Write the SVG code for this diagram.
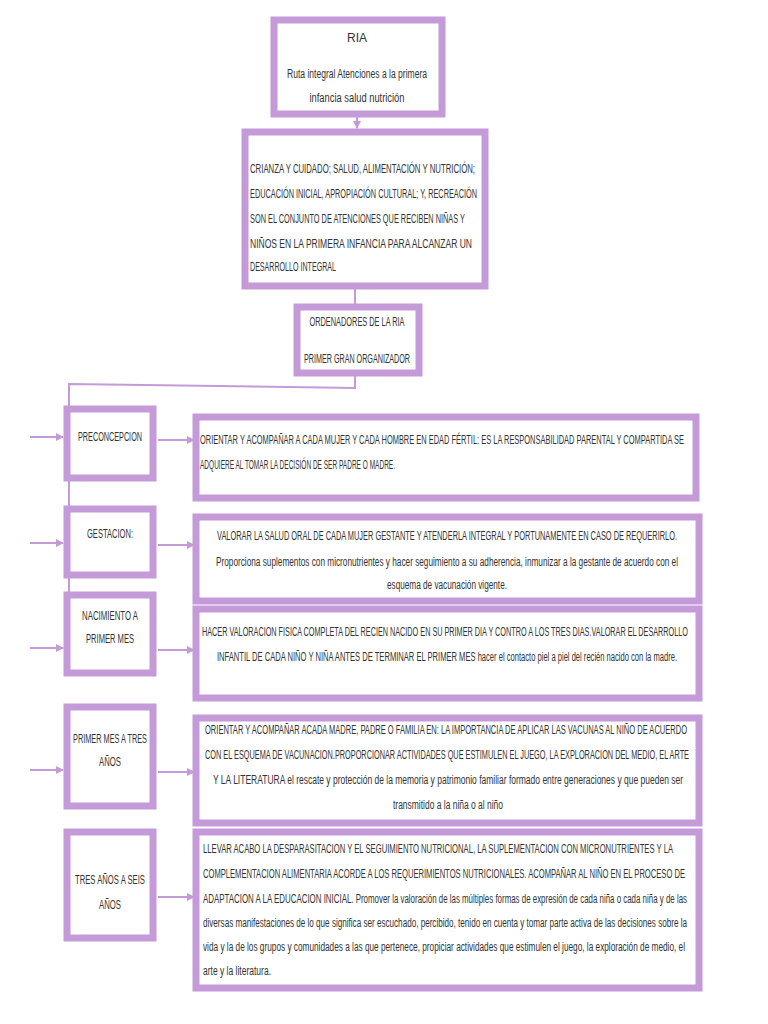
<svg xmlns="http://www.w3.org/2000/svg" width="768" height="1024" viewBox="0 0 768 1024">
<defs>
<style>
.b{fill:#fff;stroke:#c49ad8;stroke-width:7}
.c{stroke:#c49ad8;stroke-width:2;fill:none}
.t{font-family:"Liberation Sans",Arial,sans-serif;font-size:12px;fill:#333}
.m{text-anchor:middle}
</style>
<marker id="a" markerWidth="8" markerHeight="8" refX="7" refY="4" orient="auto" markerUnits="userSpaceOnUse"><path d="M0,0L8,4L0,8z" fill="#c49ad8"/></marker>
</defs>
<rect width="768" height="1024" fill="#fff"/>
<g id="connectors">
<line class="c" x1="357" y1="116" x2="357" y2="128" marker-end="url(#a)"/>
<line class="c" x1="355" y1="288" x2="355" y2="304"/>
<polyline class="c" points="355,375 355,388 69,384 69,600"/>
<line class="c" x1="30" y1="437" x2="63" y2="437" marker-end="url(#a)"/>
<line class="c" x1="30" y1="543" x2="63" y2="543" marker-end="url(#a)"/>
<line class="c" x1="30" y1="648" x2="63" y2="648" marker-end="url(#a)"/>
<line class="c" x1="30" y1="770" x2="63" y2="770" marker-end="url(#a)"/>
<line class="c" x1="158" y1="440" x2="194" y2="440" marker-end="url(#a)"/>
<line class="c" x1="158" y1="545" x2="194" y2="545" marker-end="url(#a)"/>
<line class="c" x1="158" y1="650" x2="194" y2="650" marker-end="url(#a)"/>
<line class="c" x1="158" y1="772" x2="194" y2="772" marker-end="url(#a)"/>
<line class="c" x1="158" y1="897" x2="194" y2="897" marker-end="url(#a)"/>
</g>
<g id="ria"><rect class="b" x="274" y="20" width="168" height="94"/>
<text class="t m" x="357" y="42">RIA</text>
<text class="t m" x="357" y="78" textLength="140" lengthAdjust="spacingAndGlyphs">Ruta integral Atenciones a la primera</text>
<text class="t m" x="357" y="102" textLength="95" lengthAdjust="spacingAndGlyphs">infancia salud nutrición</text></g>
<g id="def"><rect class="b" x="245" y="132" width="240" height="154"/>
<text class="t" x="250" y="173" textLength="225" lengthAdjust="spacingAndGlyphs">CRIANZA Y CUIDADO; SALUD, ALIMENTACIÓN Y NUTRICIÓN;</text>
<text class="t" x="250" y="198" textLength="227" lengthAdjust="spacingAndGlyphs">EDUCACIÓN INICIAL, APROPIACIÓN CULTURAL; Y, RECREACIÓN</text>
<text class="t" x="250" y="223" textLength="215" lengthAdjust="spacingAndGlyphs">SON EL CONJUNTO DE ATENCIONES QUE RECIBEN NIÑAS Y</text>
<text class="t" x="250" y="248" textLength="222" lengthAdjust="spacingAndGlyphs">NIÑOS EN LA PRIMERA INFANCIA PARA ALCANZAR UN</text>
<text class="t" x="250" y="271" textLength="86" lengthAdjust="spacingAndGlyphs">DESARROLLO INTEGRAL</text></g>
<g id="ord"><rect class="b" x="297" y="307" width="122" height="66"/>
<text class="t m" x="357" y="326" textLength="95" lengthAdjust="spacingAndGlyphs">ORDENADORES DE LA RIA</text>
<text class="t m" x="357" y="363" textLength="106" lengthAdjust="spacingAndGlyphs">PRIMER GRAN ORGANIZADOR</text></g>
<g id="pre"><rect class="b" x="67" y="409" width="86" height="69"/><text class="t m" x="110" y="441" textLength="64" lengthAdjust="spacingAndGlyphs">PRECONCEPCION</text></g>
<g id="ges"><rect class="b" x="67" y="509" width="86" height="66"/><text class="t m" x="110" y="538" textLength="46" lengthAdjust="spacingAndGlyphs">GESTACION:</text></g>
<g id="nac"><rect class="b" x="67" y="595" width="86" height="78"/><text class="t m" x="110" y="620" textLength="56" lengthAdjust="spacingAndGlyphs">NACIMIENTO A</text><text class="t m" x="110" y="643" textLength="48" lengthAdjust="spacingAndGlyphs">PRIMER MES</text></g>
<g id="pm"><rect class="b" x="67" y="707" width="86" height="99"/><text class="t m" x="110" y="743" textLength="74" lengthAdjust="spacingAndGlyphs">PRIMER MES A TRES</text><text class="t m" x="110" y="766" textLength="22" lengthAdjust="spacingAndGlyphs">AÑOS</text></g>
<g id="tres"><rect class="b" x="67" y="832" width="86" height="106"/><text class="t m" x="110" y="884" textLength="70" lengthAdjust="spacingAndGlyphs">TRES AÑOS A SEIS</text><text class="t m" x="110" y="909" textLength="22" lengthAdjust="spacingAndGlyphs">AÑOS</text></g>
<g id="r1"><rect class="b" x="196" y="417" width="500" height="81"/>
<text class="t" x="200" y="444" textLength="484" lengthAdjust="spacingAndGlyphs">ORIENTAR Y ACOMPAÑAR  A CADA MUJER Y CADA HOMBRE EN EDAD FÉRTIL: ES LA RESPONSABILIDAD PARENTAL Y COMPARTIDA SE</text>
<text class="t" x="200" y="469" textLength="195" lengthAdjust="spacingAndGlyphs">ADQUIERE AL TOMAR LA DECISIÓN DE SER PADRE O MADRE.</text></g>
<g id="r2"><rect class="b" x="196" y="517" width="503" height="84"/>
<text class="t m" x="447" y="540" textLength="460" lengthAdjust="spacingAndGlyphs">VALORAR LA SALUD ORAL DE CADA MUJER GESTANTE Y ATENDERLA INTEGRAL Y PORTUNAMENTE EN CASO DE REQUERIRLO.</text>
<text class="t m" x="447" y="566" textLength="462" lengthAdjust="spacingAndGlyphs">Proporciona suplementos con micronutrientes y hacer seguimiento a su adherencia, inmunizar a la gestante de acuerdo con el</text>
<text class="t m" x="447" y="589" textLength="120" lengthAdjust="spacingAndGlyphs">esquema de vacunación vigente.</text></g>
<g id="r3"><rect class="b" x="196" y="609" width="503" height="89"/>
<text class="t" x="202" y="636" textLength="486" lengthAdjust="spacingAndGlyphs">HACER VALORACION FISICA COMPLETA DEL  RECIEN NACIDO EN SU PRIMER DIA Y CONTRO A LOS TRES DIAS.VALORAR EL DESARROLLO</text>
<text class="t m" x="447" y="661" textLength="460" lengthAdjust="spacingAndGlyphs">INFANTIL DE CADA NIÑO Y NIÑA ANTES DE TERMINAR EL PRIMER MES  hacer el contacto piel a piel del recién nacido con la madre.</text></g>
<g id="r4"><rect class="b" x="196" y="718" width="503" height="105"/>
<text class="t" x="205" y="734" textLength="482" lengthAdjust="spacingAndGlyphs">ORIENTAR Y ACOMPAÑAR ACADA MADRE, PADRE O FAMILIA EN: LA IMPORTANCIA DE APLICAR LAS VACUNAS AL NIÑO DE ACUERDO</text>
<text class="t" x="205" y="759" textLength="484" lengthAdjust="spacingAndGlyphs">CON EL ESQUEMA DE VACUNACION.PROPORCIONAR ACTIVIDADES QUE ESTIMULEN EL JUEGO, LA EXPLORACION DEL MEDIO, EL ARTE</text>
<text class="t m" x="448" y="784" textLength="470" lengthAdjust="spacingAndGlyphs">Y LA LITERATURA el rescate y protección de la memoria y patrimonio familiar formado entre generaciones y que pueden ser</text>
<text class="t m" x="448" y="809" textLength="110" lengthAdjust="spacingAndGlyphs">transmitido a la niña o al niño</text></g>
<g id="r5"><rect class="b" x="196" y="832" width="503" height="156"/>
<text class="t" x="203" y="853" textLength="470" lengthAdjust="spacingAndGlyphs">LLEVAR ACABO LA DESPARASITACION Y EL SEGUIMIENTO NUTRICIONAL, LA SUPLEMENTACION CON MICRONUTRIENTES Y LA</text>
<text class="t" x="203" y="878" textLength="482" lengthAdjust="spacingAndGlyphs">COMPLEMENTACION ALIMENTARIA ACORDE A LOS REQUERIMIENTOS NUTRICIONALES. ACOMPAÑAR AL NIÑO EN EL PROCESO DE</text>
<text class="t" x="203" y="903" textLength="484" lengthAdjust="spacingAndGlyphs">ADAPTACION A LA EDUCACION INICIAL. Promover la valoración de las múltiples formas de  expresión de cada niña o cada niña y de las</text>
<text class="t" x="203" y="927" textLength="484" lengthAdjust="spacingAndGlyphs">diversas manifestaciones de lo que significa ser escuchado, percibido, tenido en cuenta y tomar parte activa de las decisiones sobre la</text>
<text class="t" x="203" y="951" textLength="482" lengthAdjust="spacingAndGlyphs">vida y la de los grupos y comunidades a las que pertenece, propiciar actividades que estimulen el juego, la exploración de medio, el</text>
<text class="t" x="203" y="975" textLength="68" lengthAdjust="spacingAndGlyphs">arte y la literatura.</text></g>
</svg>
